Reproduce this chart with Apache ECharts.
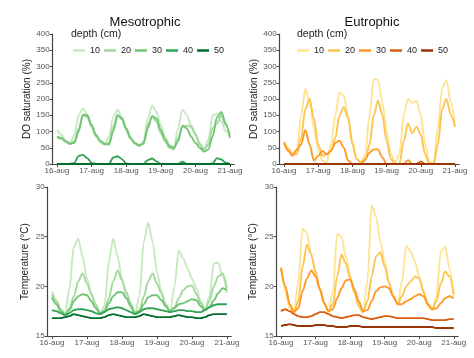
<!DOCTYPE html>
<html>
<head>
<meta charset="utf-8">
<script src="https://cdn.jsdelivr.net/npm/echarts@6/dist/echarts.min.js"></script>
<style>
html,body{margin:0;padding:0;background:#fff;}
#chart{width:474px;height:358px;}
</style>
</head>
<body>
<div id="chart"></div>
<script>
// time in hours since 16-aug 00:00
const hours = [0,3,6,9,12,15,18,21,24,27,30,33,36,39,42,45,48,51,54,57,60,63,66,69,72,75,78,81,84,87,90,93,96,99,102,105,108,111,114,117,120];
const tickHours = [0,24,48,72,96,120];
const tickLabels = ['16-aug','17-aug','18-aug','19-aug','20-aug','21-aug'];
const depths = ['10','20','30','40','50'];

// DO saturation (%), Mesotrophic
const mDo10 = [105,90,72,65,90,150,172,150,115,85,65,60,85,145,167,145,110,80,65,58,70,140,180,160,120,85,60,50,110,168,150,120,95,65,45,75,150,155,130,100,95];
const mDo20 = [80,78,68,62,70,110,150,145,115,85,70,60,65,115,152,138,105,78,62,55,65,120,145,130,95,70,50,45,80,115,118,115,90,60,45,60,110,125,150,120,90];
const mDo30 = [85,80,70,62,65,100,152,150,120,90,72,62,60,100,150,140,110,80,65,58,62,110,148,140,105,75,55,50,70,118,110,85,65,50,38,45,85,145,160,125,80];
const mDo40 = [0,0,0,0,3,25,28,18,3,0,0,0,0,20,24,15,2,0,0,0,0,12,17,8,0,0,0,0,0,7,0,0,0,0,0,0,2,18,14,4,0];
const mDo50 = [0,0,0,0,0,0,0,0,0,0,0,0,0,0,0,0,0,0,0,0,0,0,0,0,0,0,0,0,0,0,0,0,0,0,0,0,0,0,0,0,0];

// DO saturation (%), Eutrophic
const eDo10 = [70,50,35,40,150,230,190,110,40,10,5,60,150,220,210,150,70,15,5,30,150,262,258,190,100,30,3,30,150,200,188,195,150,60,5,5,110,235,258,190,115];
const eDo20 = [65,45,30,30,80,170,200,140,60,25,30,40,80,150,175,140,60,15,5,10,60,150,195,150,70,15,0,0,70,125,95,115,90,30,0,0,60,170,200,150,115];
const eDo30 = [65,40,25,45,60,105,60,10,25,40,30,40,65,72,50,10,0,0,0,15,35,45,45,20,0,0,0,0,0,12,0,0,0,0,0,0,0,0,0,0,0];
const eDo40 = [0,0,0,0,0,0,0,0,0,0,0,0,0,0,0,0,0,0,0,0,0,0,0,0,0,0,0,0,0,0,0,0,8,0,0,0,0,0,0,0,0];
const eDo50 = [0,0,0,0,0,0,0,0,0,0,0,0,0,0,0,0,0,0,0,0,0,0,0,0,0,0,0,0,0,0,0,0,0,0,0,0,0,0,0,0,0];

// Temperature (°C), Mesotrophic
const mT10 = [19.5,18.6,17.6,17.3,19.8,24.0,24.8,23.0,20.8,19.3,18.0,17.3,18.0,22.5,24.8,23.0,20.8,19.0,17.8,17.2,19.0,24.5,26.4,24.5,21.5,19.5,18.0,17.4,20.0,23.6,22.8,21.8,20.8,19.8,18.5,17.6,19.0,22.3,22.4,21.0,19.3];
const mT20 = [19.2,18.5,17.7,17.2,17.8,19.0,20.5,21.3,20.3,19.2,18.2,17.3,17.6,18.8,20.5,21.6,20.6,19.4,18.3,17.3,17.6,19.0,20.5,21.3,20.3,19.3,18.2,17.5,17.9,18.8,19.6,20.0,20.1,19.2,18.3,17.7,18.5,20.0,21.0,21.3,19.8];
const mT30 = [18.9,18.2,17.5,17.1,17.6,18.5,19.0,19.2,19.1,18.5,17.8,17.3,17.5,18.3,19.0,19.4,19.4,18.8,18.0,17.3,17.5,18.2,18.9,19.1,19.1,18.6,18.0,17.5,17.8,18.2,18.3,18.5,18.7,18.6,18.0,17.6,17.9,18.6,19.3,19.8,19.6];
const mT40 = [17.6,17.5,17.3,17.1,17.3,17.6,17.7,17.7,17.6,17.5,17.3,17.2,17.4,17.7,17.8,17.9,17.8,17.6,17.4,17.2,17.4,17.7,17.8,17.8,17.7,17.6,17.5,17.4,17.5,17.6,17.6,17.5,17.5,17.4,17.4,17.6,17.9,18.1,18.2,18.2,18.2];
const mT50 = [16.8,16.8,16.8,16.9,17.0,17.2,17.1,17.0,16.9,16.8,16.8,16.8,16.9,17.1,17.2,17.1,17.0,16.9,16.9,16.9,17.0,17.2,17.1,17.0,16.9,16.9,16.9,16.9,17.0,17.1,17.0,16.9,16.9,16.8,16.8,16.9,17.1,17.2,17.2,17.2,17.2];

// Temperature (°C), Eutrophic
const eT10 = [22.0,19.5,17.8,17.3,20.5,25.8,25.4,23.2,21.2,19.5,18.2,17.4,19.5,25.3,25.0,23.0,21.2,19.5,18.0,17.3,20.5,28.2,27.0,24.5,22.5,20.5,19.0,18.2,20.5,24.1,23.5,22.5,21.0,19.3,18.0,17.6,19.0,23.5,24.0,21.8,19.0];
const eT20 = [21.8,20.0,18.2,17.4,18.5,22.0,24.2,23.2,21.5,19.8,18.3,17.5,18.2,21.0,23.2,22.3,20.8,19.3,18.0,17.4,18.5,21.0,23.0,23.4,22.0,20.3,18.9,18.2,19.0,20.0,20.5,21.0,20.8,19.5,18.2,17.7,18.5,20.3,21.5,21.0,19.2];
const eT30 = [21.8,20.0,18.2,17.4,17.8,19.5,20.8,21.6,21.0,19.7,18.3,17.5,17.7,18.8,19.8,20.6,20.7,19.7,18.5,17.5,17.6,18.5,19.5,19.9,20.0,19.8,19.0,18.2,18.2,18.5,18.7,19.0,19.2,19.0,18.2,17.7,17.8,18.3,18.8,19.0,18.8];
const eT40 = [17.5,17.7,17.5,17.2,17.0,16.9,16.9,17.0,17.2,17.4,17.4,17.2,17.0,16.9,16.8,16.9,17.0,17.1,17.1,16.9,16.8,16.7,16.8,16.9,17.0,17.0,16.9,16.8,16.8,16.8,16.8,16.8,16.8,16.8,16.7,16.6,16.6,16.6,16.6,16.7,16.7];
const eT50 = [16.0,16.1,16.2,16.1,16.0,16.0,16.0,16.0,16.1,16.1,16.1,16.0,16.0,15.9,15.9,15.9,16.0,16.0,16.0,15.9,15.9,15.9,15.9,15.9,15.9,15.9,15.9,15.9,15.9,15.9,15.9,15.9,15.9,15.9,15.9,15.9,15.8,15.8,15.8,15.8,15.8];

const doTicks = [0,50,100,150,200,250,300,350,400];
const tTicks = [15,20,25,30];

const greens = ['#c7e9c0','#a1d99b','#74c476','#31a354','#006d2c'];
const oranges = ['#fee391','#fec44f','#fe9929','#d95f0e','#993404'];

const FONT = 'Liberation Sans, Arial, sans-serif';

const panels = [
  {grid:{left:52.7, top:34, width:181.6, height:130}, data:[mDo10,mDo20,mDo30,mDo40,mDo50], colors:greens, prefix:'m', ticks:doTicks, name:'DO saturation (%)', gap:19},
  {grid:{left:279.7, top:34, width:179.6, height:130}, data:[eDo10,eDo20,eDo30,eDo40,eDo50], colors:oranges, prefix:'e', ticks:doTicks, name:'DO saturation (%)', gap:20},
  {grid:{left:47.6, top:187, width:183.7, height:149}, data:[mT10,mT20,mT30,mT40,mT50], colors:greens, prefix:'m', ticks:tTicks, name:'Temperature (°C)', gap:17},
  {grid:{left:276.7, top:187, width:181.4, height:149}, data:[eT10,eT20,eT30,eT40,eT50], colors:oranges, prefix:'e', ticks:tTicks, name:'Temperature (°C)', gap:18}
];

const axisColor = '#444';
const option = {
  animation: false,
  backgroundColor: '#fff',
  textStyle: {fontFamily: FONT},
  grid: panels.map(p => p.grid),
  xAxis: panels.map((p, i) => ({
    gridIndex: i, type: 'value', min: -3, max: 123,
    axisLine: {show: true, onZero: false, lineStyle: {color: axisColor, width: 1.2}},
    axisTick: {show: true, customValues: tickHours, length: 3, lineStyle: {color: axisColor}},
    axisLabel: {customValues: tickHours, fontSize: 8, color: '#555', margin: 3, fontFamily: FONT,
      formatter: v => tickLabels[tickHours.indexOf(v)]},
    splitLine: {show: false}
  })),
  yAxis: panels.map((p, i) => ({
    gridIndex: i, type: 'value',
    min: p.ticks[0], max: p.ticks[p.ticks.length - 1], interval: p.ticks[1] - p.ticks[0],
    name: p.name, nameLocation: 'middle', nameGap: p.gap,
    nameTextStyle: {fontSize: 10, color: '#222', fontFamily: FONT},
    axisLine: {show: true, onZero: false, lineStyle: {color: axisColor, width: 1.2}},
    axisTick: {show: true, length: 3, lineStyle: {color: axisColor}},
    axisLabel: {fontSize: 8, color: '#555', margin: 3, fontFamily: FONT},
    splitLine: {show: false}
  })),
  legend: [
    {data: depths.map(d => 'm' + d), left: 73, top: 46},
    {data: depths.map(d => 'e' + d), left: 297, top: 46}
  ].map(l => Object.assign(l, {
    padding: 0,
    icon: 'rect', itemWidth: 12, itemHeight: 2.5, itemGap: 4,
    formatter: n => n.slice(1),
    textStyle: {fontSize: 9, color: '#222', fontFamily: FONT}
  })),
  graphic: [
    {type: 'text', x: 145, y: 22, style: {text: 'Mesotrophic', font: '13px ' + FONT, fill: '#111', textAlign: 'center', textVerticalAlign: 'middle'}},
    {type: 'text', x: 372, y: 22, style: {text: 'Eutrophic', font: '13px ' + FONT, fill: '#111', textAlign: 'center', textVerticalAlign: 'middle'}},
    {type: 'text', x: 71, y: 34, style: {text: 'depth (cm)', font: '10.5px ' + FONT, fill: '#222', textAlign: 'left', textVerticalAlign: 'middle'}},
    {type: 'text', x: 297, y: 34, style: {text: 'depth (cm)', font: '10.5px ' + FONT, fill: '#222', textAlign: 'left', textVerticalAlign: 'middle'}}
  ],
  series: []
};

panels.forEach((p, i) => {
  p.data.forEach((vals, k) => {
    option.series.push({
      name: p.prefix + depths[k], type: 'line',
      xAxisIndex: i, yAxisIndex: i,
      data: hours.map((h, j) => [h, vals[j]]),
      showSymbol: false, symbol: 'none',
      smooth: 0.3, smoothMonotone: 'x',
      color: p.colors[k],
      lineStyle: {color: p.colors[k], width: 1.9},
      emphasis: {disabled: true}
    });
  });
});

const chart = echarts.init(document.getElementById('chart'), null, {renderer: 'canvas'});
chart.setOption(option);
</script>
</body>
</html>
